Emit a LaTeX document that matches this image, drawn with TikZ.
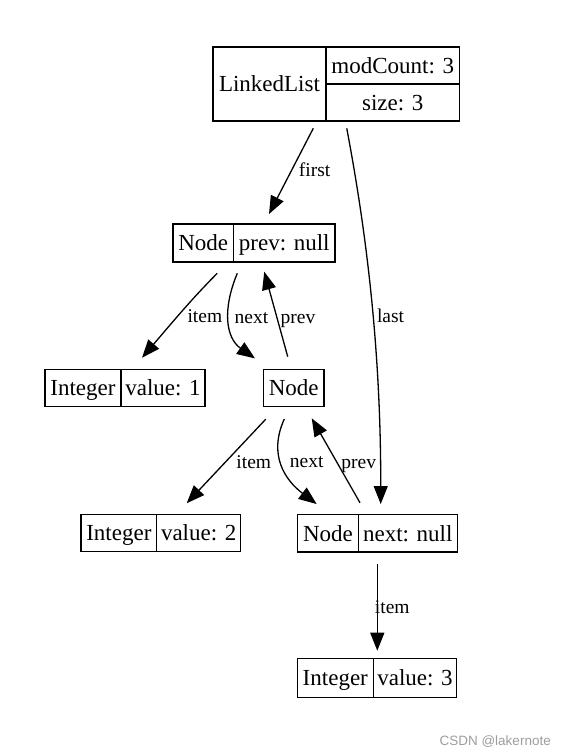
\documentclass[tikz,border=0pt]{standalone}
\usepackage{fontspec}
\setmainfont{Liberation Serif}
\newfontfamily\wmfont{Liberation Sans}
\usetikzlibrary{arrows.meta}
\begin{document}
\begin{tikzpicture}[x=1pt,y=1pt,
  cell/.style={draw, line width=1.4pt, rectangle, inner sep=0pt, outer sep=0pt,
    font=\fontsize{23}{23}\selectfont, text height=15.5pt, text depth=0pt},
  conn/.style={line width=1.3pt, -{Triangle[length=18pt,width=14pt]}},
  lbl/.style={font=\fontsize{19.5}{19.5}\selectfont, inner sep=0pt, anchor=west,
    text height=13pt, text depth=0pt},
  wm/.style={font=\wmfont\fontsize{13.5}{13.5}\selectfont, text=black!38, inner sep=0pt}
]
\useasboundingbox (0,0) rectangle (566,-756);
\fill[white] (0,0) rectangle (566,-756);

% LinkedList record
\node[cell, minimum width=113pt, minimum height=74pt] (ll) at (269.5,-84) {LinkedList};
\node[cell, minimum width=133.5pt, minimum height=37pt] (mc) at (392.75,-65.5) {modCount: 3};
\node[cell, minimum width=133.5pt, minimum height=37pt] (sz) at (392.75,-102.5) {size: 3};

% Node 1
\node[cell, minimum width=60.5pt, minimum height=38pt] (n1a) at (203.25,-243) {Node};
\node[cell, minimum width=101.5pt, minimum height=38pt] (n1b) at (284.25,-243) {prev: null};

% Integer 1
\node[cell, minimum width=76pt, minimum height=37.5pt] (i1a) at (83,-388) {Integer};
\node[cell, minimum width=84pt, minimum height=37.5pt] (i1b) at (163,-388) {value: 1};

% Node 2
\node[cell, minimum width=60.5pt, minimum height=37pt] (n2) at (293.75,-387.7) {Node};

% Integer 2
\node[cell, minimum width=75.7pt, minimum height=37.5pt] (i2a) at (118.85,-533) {Integer};
\node[cell, minimum width=84pt, minimum height=37.5pt] (i2b) at (198.7,-533) {value: 2};

% Node 3
\node[cell, minimum width=60.6pt, minimum height=37.5pt] (n3a) at (328,-533.3) {Node};
\node[cell, minimum width=99pt, minimum height=37.5pt] (n3b) at (407.8,-533.3) {next: null};

% Integer 3
\node[cell, minimum width=76pt, minimum height=39pt] (i3a) at (335.3,-677.8) {Integer};
\node[cell, minimum width=83.4pt, minimum height=39pt] (i3b) at (415,-677.8) {value: 3};

% edges
\draw[conn] ([shift={(43.8,-7.3)}]ll.south) -- node[lbl, pos=0.487, xshift=6.6pt] {first} ([shift={(-15.25,10)}]n1b.north);

\draw[conn] ([shift={(-46,-7.3)}]sz.south) .. controls +(17.3,-91.7) and +(0.3,164) ..
  node[lbl, pos=0.57, xshift=3.5pt] {last} ([shift={(-27.1,10.5)}]n3b.north);

\draw[conn] ([shift={(14,-11.3)}]n1a.south) .. controls +(-25,-25) and +(30,35) ..
  node[lbl, pos=0.55, xshift=9pt] {item} ([shift={(21,11.5)}]i1a.north east);

\draw[conn] ([shift={(3.8,-11.3)}]n1b.south west) .. controls +(-15.3,-36.7) and +(-29,20.3) ..
  node[lbl, pos=0.44, xshift=5.2pt] {next} ([shift={(-8.5,10.8)}]n2.north west);

\draw[conn] ([shift={(-6,12.5)}]n2.north) -- node[lbl, pos=0.47, xshift=3.3pt] {prev} ([shift={(-20,-9.7)}]n1b.south);

\draw[conn] ([shift={(-28,-13)}]n2.south) -- node[lbl, pos=0.505, xshift=10pt] {item} ([shift={(-12,11)}]i2b.north);

\draw[conn] ([shift={(-9.45,-12.8)}]n2.south) .. controls +(-16.3,-36) and +(-31.7,24) ..
  node[lbl, pos=0.44, xshift=8.8pt] {next} ([shift={(-11.3,10.5)}]n3a.north);

\draw[conn] ([shift={(1.7,11.8)}]n3b.north west) -- node[lbl, pos=0.486, xshift=4.2pt] {prev} ([shift={(18,-12.1)}]n2.south);

\draw[conn] ([shift={(-30.5,-12)}]n3b.south) -- node[lbl, pos=0.5, xshift=-3pt] {item} ([shift={(4,7.6)}]i3a.north east);

% watermark
\node[wm, anchor=east, text height=9.7pt, text depth=0pt] (wmk) at (551,-741) {CSDN @lakernote};
\end{tikzpicture}
\end{document}
